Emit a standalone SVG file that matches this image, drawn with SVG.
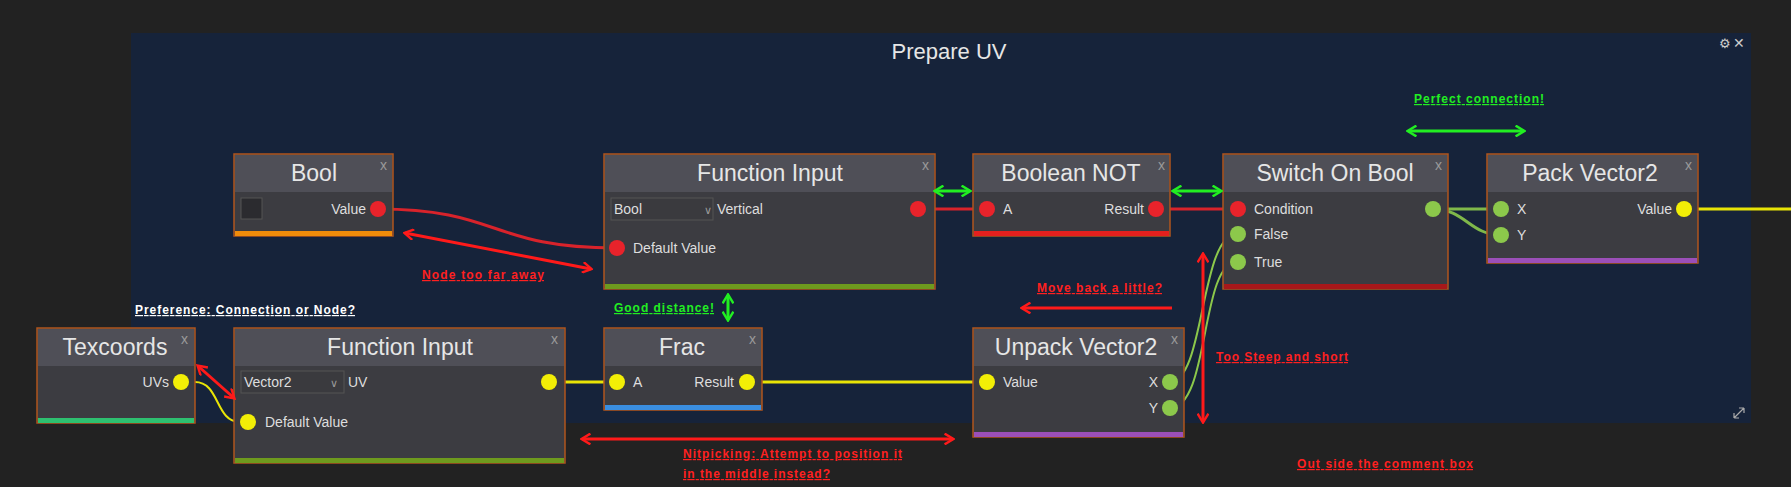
<svg xmlns="http://www.w3.org/2000/svg" width="1791" height="487" viewBox="0 0 1791 487">
<defs>
<marker id="ar" viewBox="0 0 10 10" refX="8" refY="5" markerWidth="4" markerHeight="4" orient="auto-start-reverse"><path d="M1,0.5 L8.5,5 L1,9.5" fill="none" stroke="#ff1a1a" stroke-width="2"/></marker>
<marker id="ag" viewBox="0 0 10 10" refX="8" refY="5" markerWidth="4" markerHeight="4" orient="auto-start-reverse"><path d="M1,0.5 L8.5,5 L1,9.5" fill="none" stroke="#22ee22" stroke-width="2"/></marker>
</defs>
<style>
.node rect.b{fill:#3c3c41;stroke:#b0561e;stroke-width:1.5}
.node rect.h{fill:#4f4f57}
.t{font-family:"Liberation Sans",Arial,sans-serif;font-size:23px;fill:#e6e6e6;text-anchor:middle}
.l{font-family:"Liberation Sans",Arial,sans-serif;font-size:14px;fill:#dedede}
.x{font-family:"Liberation Sans",Arial,sans-serif;font-size:14px;fill:#9a9a9a}
.ann{font-family:"Liberation Sans",Arial,sans-serif;font-size:12px;font-weight:bold;text-decoration:underline}
.sr{fill:#e8232b}.sg{fill:#8cc84b}.sy{fill:#f2ee06}
.ra{stroke:#ff1a1a;stroke-width:3;fill:none;marker-start:url(#ar);marker-end:url(#ar)}
.ga{stroke:#22ee22;stroke-width:3;fill:none;marker-start:url(#ag);marker-end:url(#ag)}
</style>
<rect width="1791" height="487" fill="#222222"/>
<rect x="131" y="33" width="1620" height="390" fill="#16233a"/>
<text x="949" y="59" class="t" style="font-size:22px">Prepare UV</text>
<text x="1719" y="48" class="x" style="font-size:13px;fill:#ccc">⚙</text>
<text x="1733" y="48" class="x" style="fill:#ccc">✕</text>
<path d="M1734,418 L1744,408 M1734,418 v-5 M1734,418 h5 M1744,408 v5 M1744,408 h-5" stroke="#aaa" stroke-width="1.2" fill="none"/>

<g id="connectors" fill="none" stroke-width="3">
<path d="M378,209 C500,209 490,248 616,248" stroke="#d8232b"/>
<path d="M918,209 H985" stroke="#d8232b"/>
<path d="M1157,209 H1238" stroke="#d8232b"/>
<path d="M1433,209 H1501" stroke="#7fb84a"/>
<path d="M1433,209 C1465,209 1470,235 1501,235" stroke="#7fb84a"/>
<path d="M1684,209 H1791" stroke="#e8e406"/>
<path d="M195,382 C220,382 215,422 240,422" stroke="#e8e406" stroke-width="2"/>
<path d="M545,382 H617" stroke="#e8e406"/>
<path d="M748,382 H987" stroke="#e8e406"/>
<path d="M1170,382 C1205,382 1200,234 1237,234" stroke="#8cc84b" stroke-width="2"/>
<path d="M1170,408 C1210,408 1200,262 1237,262" stroke="#8cc84b" stroke-width="2"/>
</g>

<g id="bool" class="node"><rect class="b" x="234" y="154" width="159" height="82"/><rect class="h" x="235" y="155" width="157" height="37"/><rect x="235" y="231" width="157" height="5" fill="#f08c0a"/><text x="314" y="181" class="t">Bool</text><text x="380" y="170" class="x">x</text><rect x="241" y="198" width="21" height="21" fill="#2b2b2f" stroke="#555"/><text x="366" y="214" class="l" text-anchor="end">Value</text><circle cx="378" cy="209" r="8" class="sr"/></g>

<g id="fi1" class="node"><rect class="b" x="604" y="154" width="331" height="135"/><rect class="h" x="605" y="155" width="329" height="37"/><rect x="605" y="284" width="329" height="5" fill="#6e9a1e"/><text x="770" y="181" class="t">Function Input</text><text x="922" y="170" class="x">x</text><rect x="611" y="198" width="102" height="22" fill="#3a3a3e" stroke="#555"/><text x="614" y="214" class="l">Bool</text><text x="704" y="214" class="x" style="font-size:11px">∨</text><text x="717" y="214" class="l">Vertical</text><circle cx="918" cy="209" r="8" class="sr"/><circle cx="617" cy="248" r="8" class="sr"/><text x="633" y="253" class="l">Default Value</text></g>

<g id="boolnot" class="node"><rect class="b" x="973" y="154" width="197" height="82"/><rect class="h" x="974" y="155" width="195" height="37"/><rect x="974" y="231" width="195" height="5" fill="#e4201e"/><text x="1071" y="181" class="t">Boolean NOT</text><text x="1158" y="170" class="x">x</text><circle cx="987" cy="209" r="8" class="sr"/><text x="1003" y="214" class="l">A</text><text x="1144" y="214" class="l" text-anchor="end">Result</text><circle cx="1156" cy="209" r="8" class="sr"/></g>

<g id="switch" class="node"><rect class="b" x="1223" y="154" width="225" height="135"/><rect class="h" x="1224" y="155" width="223" height="37"/><rect x="1224" y="284" width="223" height="5" fill="#a8181a"/><text x="1335" y="181" class="t">Switch On Bool</text><text x="1435" y="170" class="x">x</text><circle cx="1238" cy="209" r="8" class="sr"/><text x="1254" y="214" class="l">Condition</text><circle cx="1433" cy="209" r="8" class="sg"/><circle cx="1238" cy="234" r="8" class="sg"/><text x="1254" y="239" class="l">False</text><circle cx="1238" cy="262" r="8" class="sg"/><text x="1254" y="267" class="l">True</text></g>

<g id="pack" class="node"><rect class="b" x="1487" y="154" width="211" height="109"/><rect class="h" x="1488" y="155" width="209" height="37"/><rect x="1488" y="258" width="209" height="5" fill="#9b4fb8"/><text x="1590" y="181" class="t">Pack Vector2</text><text x="1685" y="170" class="x">x</text><circle cx="1501" cy="209" r="8" class="sg"/><text x="1517" y="214" class="l">X</text><circle cx="1501" cy="235" r="8" class="sg"/><text x="1517" y="240" class="l">Y</text><text x="1672" y="214" class="l" text-anchor="end">Value</text><circle cx="1684" cy="209" r="8" class="sy"/></g>

<g id="texcoords" class="node"><rect class="b" x="37" y="328" width="158" height="95"/><rect class="h" x="38" y="329" width="156" height="37"/><rect x="38" y="418" width="156" height="5" fill="#2ec070"/><text x="115" y="355" class="t">Texcoords</text><text x="181" y="344" class="x">x</text><text x="169" y="387" class="l" text-anchor="end">UVs</text><circle cx="181" cy="382" r="8" class="sy"/></g>

<g id="fi2" class="node"><rect class="b" x="234" y="328" width="331" height="135"/><rect class="h" x="235" y="329" width="329" height="37"/><rect x="235" y="458" width="329" height="5" fill="#6e9a1e"/><text x="400" y="355" class="t">Function Input</text><text x="551" y="344" class="x">x</text><rect x="241" y="371" width="103" height="22" fill="#3a3a3e" stroke="#555"/><text x="244" y="387" class="l">Vector2</text><text x="330" y="387" class="x" style="font-size:11px">∨</text><text x="348" y="387" class="l">UV</text><circle cx="549" cy="382" r="8" class="sy"/><circle cx="248" cy="422" r="8" class="sy"/><text x="265" y="427" class="l">Default Value</text></g>

<g id="frac" class="node"><rect class="b" x="604" y="328" width="158" height="82"/><rect class="h" x="605" y="329" width="156" height="37"/><rect x="605" y="405" width="156" height="5" fill="#3a8ee0"/><text x="682" y="355" class="t">Frac</text><text x="749" y="344" class="x">x</text><circle cx="617" cy="382" r="8" class="sy"/><text x="633" y="387" class="l">A</text><text x="734" y="387" class="l" text-anchor="end">Result</text><circle cx="747" cy="382" r="8" class="sy"/></g>

<g id="unpack" class="node"><rect class="b" x="973" y="328" width="211" height="109"/><rect class="h" x="974" y="329" width="209" height="37"/><rect x="974" y="432" width="209" height="5" fill="#9b4fb8"/><text x="1076" y="355" class="t">Unpack Vector2</text><text x="1171" y="344" class="x">x</text><circle cx="987" cy="382" r="8" class="sy"/><text x="1003" y="387" class="l">Value</text><text x="1158" y="387" class="l" text-anchor="end">X</text><circle cx="1170" cy="382" r="8" class="sg"/><text x="1158" y="413" class="l" text-anchor="end">Y</text><circle cx="1170" cy="408" r="8" class="sg"/></g>

<g id="annotations">
<path class="ra" d="M405,233 L591,269"/>
<text x="422" y="279" class="ann" fill="#ff2020" textLength="122">Node too far away</text>
<text x="135" y="314" class="ann" fill="#ffffff" textLength="220">Preference: Connection or Node?</text>
<text x="614" y="312" class="ann" fill="#22ee22" textLength="100">Good distance!</text>
<path class="ga" d="M728,295 V320"/>
<path class="ra" d="M198,366 L234,398"/>
<path class="ra" d="M582,439 H953"/>
<text x="683" y="458" class="ann" fill="#ff2020" textLength="219">Nitpicking: Attempt to position it</text>
<text x="683" y="478" class="ann" fill="#ff2020" textLength="147">in the middle instead?</text>
<path class="ga" d="M935,191 H970"/>
<path class="ga" d="M1173,191 H1221"/>
<text x="1414" y="103" class="ann" fill="#22ee22" textLength="130">Perfect connection!</text>
<path class="ga" d="M1408,131 H1524"/>
<text x="1037" y="292" class="ann" fill="#ff2020" textLength="125">Move back a little?</text>
<path d="M1172,308 H1022" stroke="#ff1a1a" stroke-width="3" fill="none" marker-end="url(#ar)"/>
<path class="ra" d="M1203,254 V422"/>
<text x="1216" y="361" class="ann" fill="#ff2020" textLength="132">Too Steep and short</text>
<text x="1297" y="468" class="ann" fill="#ff2020" textLength="176">Out side the comment box</text>
</g>
</svg>
